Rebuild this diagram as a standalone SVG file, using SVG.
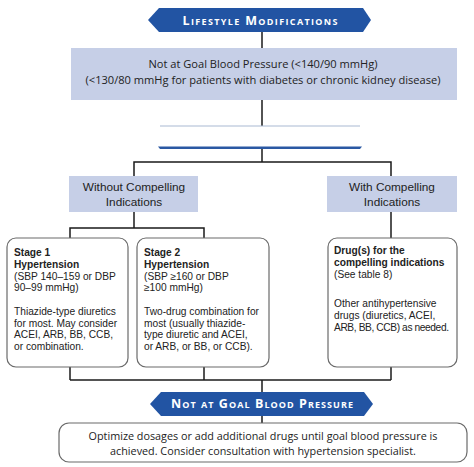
<svg xmlns="http://www.w3.org/2000/svg" width="474" height="467" viewBox="0 0 474 467">
<style>
.bg{fill:#ffffff}
.banner{fill:#2254a3}
.btxt{font-family:"Open Sans","Liberation Sans",sans-serif;font-weight:bold;font-size:12.5px;font-variant:small-caps;fill:#ffffff;text-anchor:middle}
.lbox{fill:#c6cfe7}
.ltxt{font-family:"Open Sans","Liberation Sans",sans-serif;font-size:11.1px;fill:#222;text-anchor:middle}
.mtxt{font-family:"Liberation Sans",Arial,sans-serif;font-size:11.8px;fill:#222;text-anchor:middle}
.rbox{fill:#ffffff;stroke:#6a6a6a;stroke-width:1.2}
.t{font-family:"Liberation Sans",Arial,sans-serif;font-size:10.2px;fill:#222}
.b{font-weight:bold}
.otxt{font-family:"Open Sans","Liberation Sans",sans-serif;font-size:10.8px;fill:#222;text-anchor:middle}
.conn{stroke:#1a1a1a;stroke-width:1.5;fill:none}
</style>
<rect class="bg" x="0" y="0" width="474" height="467"/>
<g id="connectors">
<line class="conn" x1="262" y1="32" x2="262" y2="48"/>
<line class="conn" x1="262" y1="100" x2="262" y2="126"/>
<line x1="160" y1="126" x2="360" y2="126" stroke="#a9b9d2" stroke-width="1"/>
<path d="M158 146.5 L362 146.5 L360 149 L160 149 Z" fill="#2a58a3"/>
<line class="conn" x1="262" y1="149" x2="262" y2="162"/>
<polyline class="conn" points="134,176 134,162 391,162 391,176"/>
<line class="conn" x1="134" y1="212" x2="134" y2="228"/>
<polyline class="conn" points="70,238 70,228 204,228 204,238"/>
<line class="conn" x1="391" y1="212" x2="391" y2="238"/>
<line class="conn" x1="70" y1="367" x2="70" y2="380"/>
<line class="conn" x1="204" y1="367" x2="204" y2="380"/>
<line class="conn" x1="391" y1="367" x2="391" y2="380"/>
<line class="conn" x1="70" y1="380" x2="391" y2="380"/>
<line class="conn" x1="262" y1="380" x2="262" y2="392"/>
<line class="conn" x1="262" y1="415" x2="262" y2="423"/>
</g>
<g id="lifestyle">
<polygon class="banner" points="148,20 159,8 363,8 371,20 363,32 159,32"/>
<text class="btxt" x="260" y="24.5" textLength="155" lengthAdjust="spacing">Lifestyle Modifications</text>
</g>
<g id="not-at-goal-1">
<rect class="lbox" x="71" y="48" width="386" height="52"/>
<text class="ltxt" x="263" y="68">Not at Goal Blood Pressure (&lt;140/90 mmHg)</text>
<text class="ltxt" x="263" y="84">(&lt;130/80 mmHg for patients with diabetes or chronic kidney disease)</text>
</g>
<g id="without">
<rect class="lbox" x="69" y="176" width="129" height="36"/>
<text class="mtxt" x="134" y="190.5">Without Compelling</text>
<text class="mtxt" x="134" y="206">Indications</text>
</g>
<g id="with">
<rect class="lbox" x="327" y="176" width="130" height="36"/>
<text class="mtxt" x="392" y="190.5">With Compelling</text>
<text class="mtxt" x="392" y="206">Indications</text>
</g>
<g id="stage1">
<rect class="rbox" x="7" y="238" width="121" height="129" rx="9"/>
<text class="t b" x="14" y="256">Stage 1</text>
<text class="t b" x="14" y="268">Hypertension</text>
<text class="t" x="14" y="279.5">(SBP 140–159 or DBP</text>
<text class="t" x="14" y="291">90–99 mmHg)</text>
<text class="t" x="14" y="315">Thiazide-type diuretics</text>
<text class="t" x="14" y="326.5">for most. May consider</text>
<text class="t" x="14" y="338">ACEI, ARB, BB, CCB,</text>
<text class="t" x="14" y="349.5">or combination.</text>
</g>
<g id="stage2">
<rect class="rbox" x="137" y="238" width="132" height="129" rx="9"/>
<text class="t b" x="144" y="256">Stage 2</text>
<text class="t b" x="144" y="268">Hypertension</text>
<text class="t" x="144" y="279.5">(SBP ≥160 or DBP</text>
<text class="t" x="144" y="291">≥100 mmHg)</text>
<text class="t" x="144" y="315">Two-drug combination for</text>
<text class="t" x="144" y="326.5">most (usually thiazide-</text>
<text class="t" x="144" y="338">type diuretic and ACEI,</text>
<text class="t" x="144" y="349.5">or ARB, or BB, or CCB).</text>
</g>
<g id="compelling">
<rect class="rbox" x="328" y="238" width="129" height="129" rx="9"/>
<text class="t b" x="334" y="254">Drug(s) for the</text>
<text class="t b" x="334" y="266">compelling indications</text>
<text class="t" x="334" y="278">(See table 8)</text>
<text class="t" x="334" y="307">Other antihypertensive</text>
<text class="t" x="334" y="319">drugs (diuretics, ACEI,</text>
<text class="t" x="334" y="331" textLength="115" lengthAdjust="spacing">ARB, BB, CCB) as needed.</text>
</g>
<g id="not-at-goal-2">
<polygon class="banner" points="150,404 161,392 364,392 373,404 364,416 161,416"/>
<text class="btxt" x="262" y="408" textLength="182" lengthAdjust="spacing">Not at Goal Blood Pressure</text>
</g>
<g id="optimize">
<rect class="rbox" x="59" y="423" width="408" height="39" rx="10"/>
<text class="otxt" x="263" y="440">Optimize dosages or add additional drugs until goal blood pressure is</text>
<text class="otxt" x="263" y="455">achieved. Consider consultation with hypertension specialist.</text>
</g>
</svg>
